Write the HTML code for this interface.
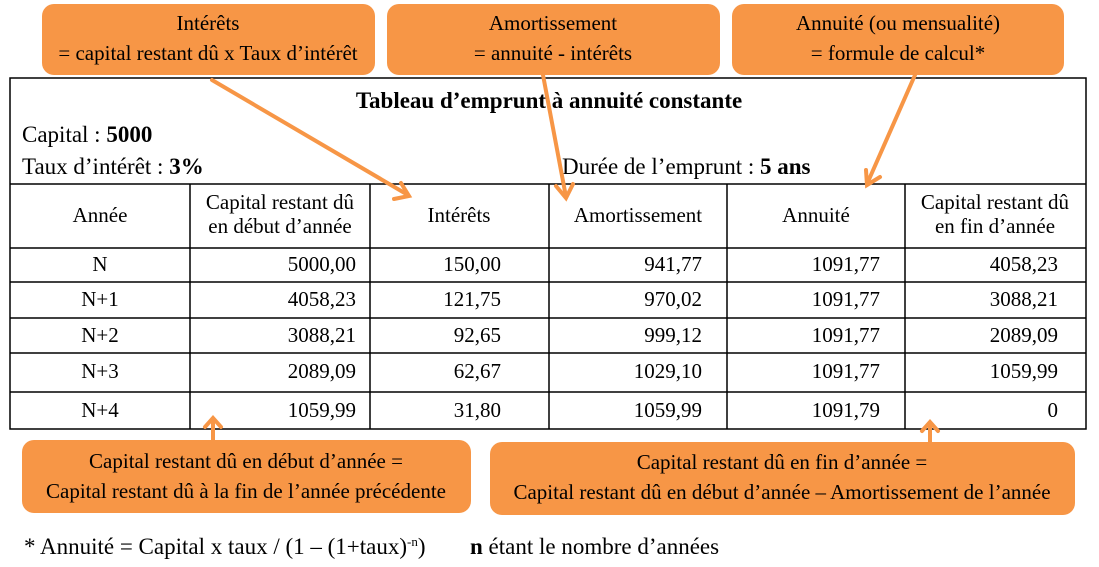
<!DOCTYPE html>
<html><head><meta charset="utf-8"><style>
body{margin:0;background:#fff;}
svg{display:block;font-family:"Liberation Serif",serif;}
</style></head><body>
<svg width="1099" height="567" viewBox="0 0 1099 567">
<g fill="#F79646">
<rect x="42" y="4" width="333" height="71" rx="12"/>
<rect x="387" y="4" width="333" height="71" rx="12"/>
<rect x="732" y="4" width="332" height="71" rx="12"/>
<rect x="22" y="440" width="449" height="73" rx="12"/>
<rect x="490" y="442" width="585" height="73" rx="12"/>
</g>
<g font-size="21" text-anchor="middle" fill="#000">
<text x="208" y="30">Intérêts</text>
<text x="208" y="60">= capital restant dû x Taux d’intérêt</text>
<text x="553" y="30">Amortissement</text>
<text x="553" y="60">= annuité - intérêts</text>
<text x="898" y="30">Annuité (ou mensualité)</text>
<text x="898" y="60">= formule de calcul*</text>
<text x="246" y="468">Capital restant dû en début d’année =</text>
<text x="246" y="498">Capital restant dû à la fin de l’année précédente</text>
<text x="782" y="469">Capital restant dû en fin d’année =</text>
<text x="782" y="499">Capital restant dû en début d’année – Amortissement de l’année</text>
</g>
<g stroke="#000" stroke-width="1.5" fill="none">
<rect x="10" y="78" width="1076" height="351"/>
<line x1="10" y1="184" x2="1086" y2="184"/>
<line x1="10" y1="248" x2="1086" y2="248"/>
<line x1="10" y1="282" x2="1086" y2="282"/>
<line x1="10" y1="318" x2="1086" y2="318"/>
<line x1="10" y1="353" x2="1086" y2="353"/>
<line x1="10" y1="392" x2="1086" y2="392"/>
<line x1="190" y1="184" x2="190" y2="429"/>
<line x1="370" y1="184" x2="370" y2="429"/>
<line x1="549" y1="184" x2="549" y2="429"/>
<line x1="727" y1="184" x2="727" y2="429"/>
<line x1="905" y1="184" x2="905" y2="429"/>
</g>
<g font-size="21" fill="#000">
<g font-size="23">
<text x="549" y="108" text-anchor="middle" font-weight="bold">Tableau d’emprunt à annuité constante</text>
<text x="22" y="142">Capital : <tspan font-weight="bold">5000</tspan></text>
<text x="22" y="174">Taux d’intérêt : <tspan font-weight="bold">3%</tspan></text>
<text x="562" y="174">Durée de l’emprunt : <tspan font-weight="bold">5 ans</tspan></text>
</g>
<g text-anchor="middle">
<text x="100" y="222">Année</text>
<text x="280" y="209">Capital restant dû</text>
<text x="280" y="233">en début d’année</text>
<text x="459" y="222">Intérêts</text>
<text x="638" y="222">Amortissement</text>
<text x="816" y="222">Annuité</text>
<text x="995" y="209">Capital restant dû</text>
<text x="995" y="233">en fin d’année</text>
<text x="100" y="271">N</text>
<text x="100" y="306">N+1</text>
<text x="100" y="342">N+2</text>
<text x="100" y="378">N+3</text>
<text x="100" y="417">N+4</text>
</g>
<g text-anchor="end">
<text x="356" y="271">5000,00</text><text x="501" y="271">150,00</text><text x="702" y="271">941,77</text><text x="880" y="271">1091,77</text><text x="1058" y="271">4058,23</text>
<text x="356" y="306">4058,23</text><text x="501" y="306">121,75</text><text x="702" y="306">970,02</text><text x="880" y="306">1091,77</text><text x="1058" y="306">3088,21</text>
<text x="356" y="342">3088,21</text><text x="501" y="342">92,65</text><text x="702" y="342">999,12</text><text x="880" y="342">1091,77</text><text x="1058" y="342">2089,09</text>
<text x="356" y="378">2089,09</text><text x="501" y="378">62,67</text><text x="702" y="378">1029,10</text><text x="880" y="378">1091,77</text><text x="1058" y="378">1059,99</text>
<text x="356" y="417">1059,99</text><text x="501" y="417">31,80</text><text x="702" y="417">1059,99</text><text x="880" y="417">1091,79</text><text x="1058" y="417">0</text>
</g>
<g font-size="23">
<text x="24" y="554">* Annuité = Capital x taux / (1 – (1+taux)<tspan font-size="13" dy="-8">-n</tspan><tspan dy="8">)</tspan></text>
<text x="470" y="554"><tspan font-weight="bold">n</tspan> étant le nombre d’années</text>
</g>
</g>
<g stroke="#F79646" stroke-width="4" fill="none" stroke-linecap="round">
<line x1="212" y1="80" x2="408" y2="195"/>
<polyline points="394,199 409,196 401,183"/>
<line x1="543" y1="75" x2="566" y2="197"/>
<polyline points="556,186 566,198 573,184"/>
<line x1="915" y1="75" x2="867" y2="184"/>
<polyline points="866,170 867,185 880,177"/>
<line x1="213" y1="440" x2="213" y2="419"/>
<polyline points="205,427 213,418 221,427"/>
<line x1="930" y1="442" x2="930" y2="423"/>
<polyline points="922,431 930,422 938,431"/>
</g>
</svg>
</body></html>
